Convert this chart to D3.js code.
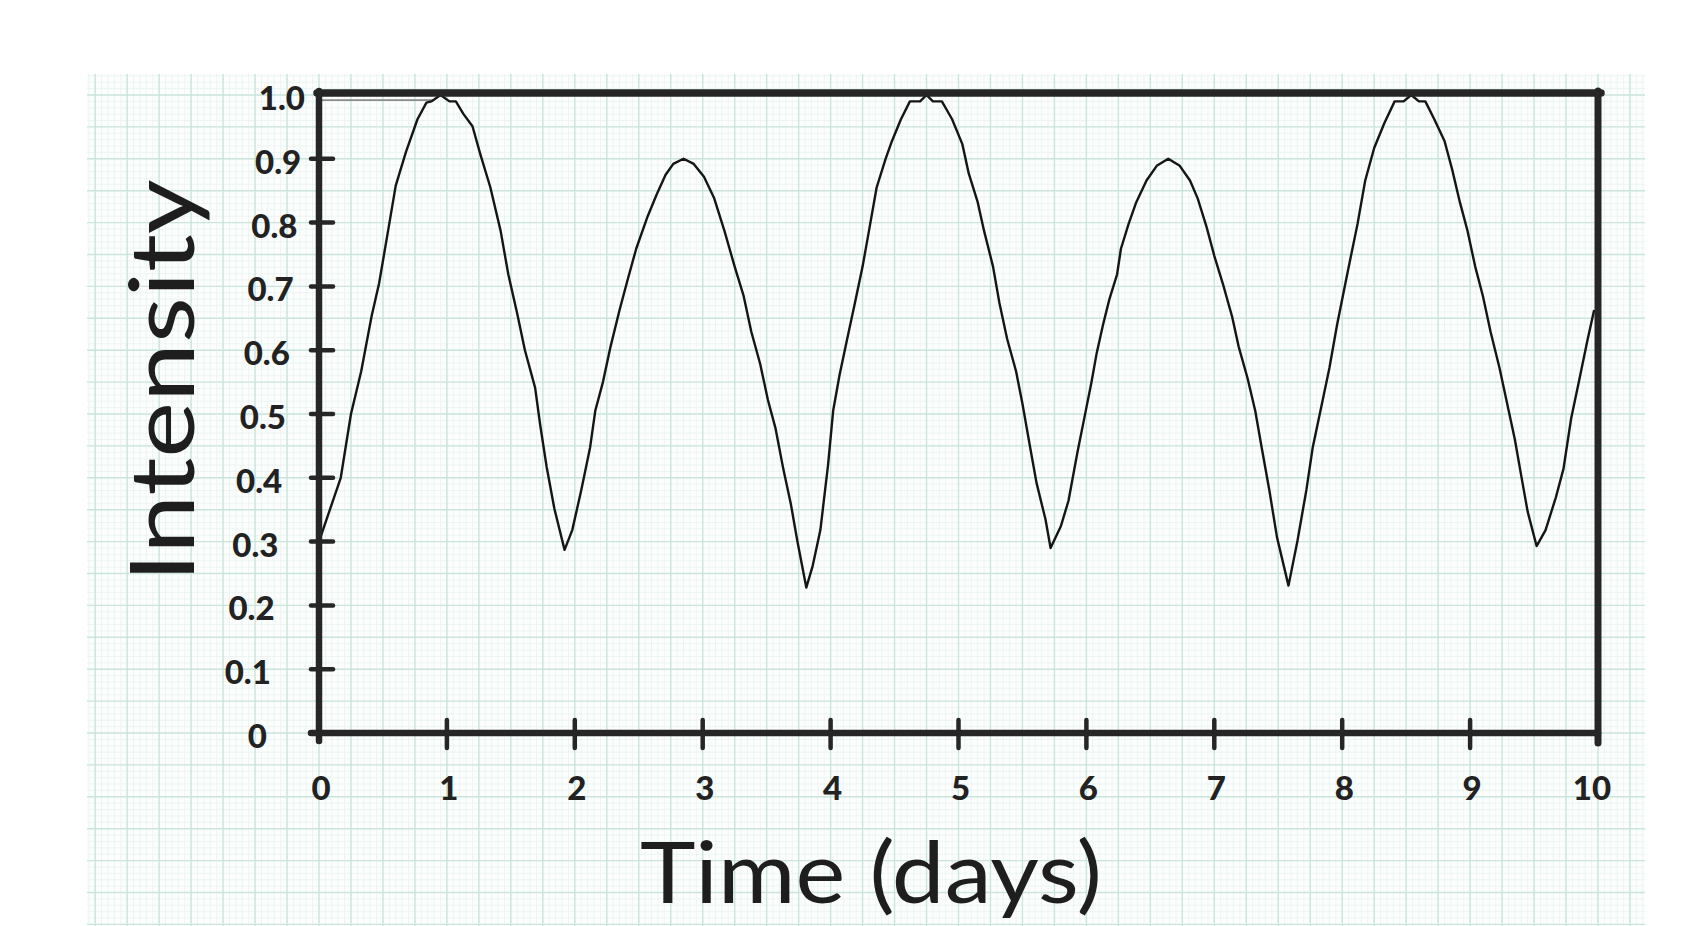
<!DOCTYPE html>
<html>
<head>
<meta charset="utf-8">
<script src="https://cdn.jsdelivr.net/npm/d3@7"></script>
<style>
  html, body { margin: 0; padding: 0; background: #ffffff; }
  svg { display: block; }
</style>
</head>
<body>
<svg id="chart" width="1708" height="926"></svg>
<script>
// ---- data ----
const days = [
  0.00, 0.17, 0.25, 0.33, 0.41, 0.47, 0.54, 0.60, 0.68, 0.77, 0.84, 0.88, 0.95, 1.02, 1.07,
  1.13, 1.20, 1.26, 1.34, 1.42, 1.48, 1.55, 1.61, 1.69, 1.73, 1.78, 1.84, 1.92,
  1.98, 2.05, 2.12, 2.16, 2.22, 2.28, 2.35, 2.41, 2.48, 2.57, 2.64, 2.71, 2.77, 2.85,
  2.93, 3.01, 3.09, 3.17, 3.25, 3.32, 3.38, 3.45, 3.51, 3.57, 3.63, 3.69, 3.74, 3.81,
  3.86, 3.92, 3.98, 4.02, 4.07, 4.13, 4.19, 4.25, 4.30, 4.36, 4.43, 4.48, 4.55, 4.62, 4.70, 4.75,
  4.80, 4.87, 4.95, 5.03, 5.08, 5.15, 5.20, 5.27, 5.32, 5.38, 5.45, 5.50, 5.56, 5.61, 5.68, 5.72,
  5.80, 5.86, 5.93, 5.98, 6.04, 6.08, 6.13, 6.18, 6.24, 6.27, 6.33, 6.39, 6.47, 6.55, 6.64,
  6.73, 6.81, 6.87, 6.94, 7.00, 7.07, 7.14, 7.19, 7.26, 7.32, 7.37, 7.43, 7.49, 7.58,
  7.65, 7.72, 7.77, 7.83, 7.90, 7.96, 8.04, 8.12, 8.18, 8.25, 8.33, 8.41, 8.48, 8.54, 8.60, 8.65,
  8.72, 8.80, 8.86, 8.92, 8.98, 9.04, 9.10, 9.16, 9.23, 9.29, 9.35, 9.40, 9.45, 9.52,
  9.59, 9.67, 9.73, 9.79, 9.85, 9.92, 9.97
];
const intensity = [
  0.300, 0.400, 0.500, 0.567, 0.652, 0.705, 0.787, 0.858, 0.911, 0.962, 0.988, 0.990, 1.000, 0.990, 0.990,
  0.970, 0.951, 0.908, 0.855, 0.787, 0.719, 0.657, 0.600, 0.541, 0.482, 0.417, 0.352, 0.287,
  0.318, 0.380, 0.448, 0.505, 0.550, 0.606, 0.663, 0.708, 0.759, 0.810, 0.844, 0.875, 0.892, 0.900,
  0.892, 0.872, 0.838, 0.787, 0.731, 0.685, 0.629, 0.578, 0.522, 0.477, 0.414, 0.358, 0.301, 0.228,
  0.262, 0.318, 0.420, 0.505, 0.561, 0.618, 0.674, 0.731, 0.787, 0.855, 0.900, 0.928, 0.962, 0.990, 0.990, 1.000,
  0.990, 0.990, 0.962, 0.923, 0.877, 0.832, 0.787, 0.731, 0.674, 0.618, 0.567, 0.516, 0.448, 0.392, 0.335, 0.290,
  0.324, 0.364, 0.440, 0.490, 0.550, 0.595, 0.640, 0.680, 0.719, 0.759, 0.798, 0.832, 0.866, 0.889, 0.900,
  0.889, 0.866, 0.838, 0.793, 0.748, 0.702, 0.652, 0.606, 0.556, 0.505, 0.448, 0.381, 0.307, 0.231,
  0.301, 0.381, 0.448, 0.505, 0.572, 0.640, 0.720, 0.798, 0.866, 0.917, 0.956, 0.990, 0.990, 1.000, 0.990, 0.990,
  0.962, 0.928, 0.883, 0.832, 0.787, 0.731, 0.685, 0.629, 0.572, 0.516, 0.460, 0.403, 0.347, 0.293,
  0.318, 0.369, 0.414, 0.493, 0.550, 0.618, 0.663
];
const xTicks = [0, 1, 2, 3, 4, 5, 6, 7, 8, 9, 10];
const xTickLabels = ["0", "1", "2", "3", "4", "5", "6", "7", "8", "9", "10"];
const yTicks = [0, 0.1, 0.2, 0.3, 0.4, 0.5, 0.6, 0.7, 0.8, 0.9, 1.0];
const yTickLabels = ["0", "0.1", "0.2", "0.3", "0.4", "0.5", "0.6", "0.7", "0.8", "0.9", "1.0"];
const xTitle = "Time (days)";
const yTitle = "Intensity";

// ---- layout ----
const W = 1708, H = 926;
const paper = { left: 87, right: 1645, top: 74, bottom: 926 };
const x = d3.scaleLinear().domain([0, 10]).range([319, 1598]);
const y = d3.scaleLinear().domain([0, 1]).range([733, 95]);

const svg = d3.select("#chart");
svg.append("rect").attr("width", W).attr("height", H).attr("fill", "#ffffff");

// graph paper
svg.append("rect")
  .attr("x", paper.left).attr("y", paper.top)
  .attr("width", paper.right - paper.left).attr("height", paper.bottom - paper.top)
  .attr("fill", "#fcfefd");

const gGrid = svg.append("g");
function gridLines(step, stroke, width, opacity) {
  const d0 = x.invert(paper.left), d1 = x.invert(paper.right);
  const n0 = Math.ceil(d0 / step), n1 = Math.floor(d1 / step);
  const xs = d3.range(n0, n1 + 1).map(k => x(k * step));
  gGrid.append("g").selectAll("line").data(xs).join("line")
    .attr("x1", d => d).attr("x2", d => d)
    .attr("y1", paper.top).attr("y2", paper.bottom)
    .attr("stroke", stroke).attr("stroke-width", width).attr("opacity", opacity);
  const v0 = y.invert(paper.bottom), v1 = y.invert(paper.top);
  const m0 = Math.ceil(v0 / step / 0.2 - 1e-9), m1 = Math.floor(v1 / step / 0.2 + 1e-9);
  const ys = d3.range(m0, m1 + 1).map(k => y(k * step * 0.2));
  gGrid.append("g").selectAll("line").data(ys).join("line")
    .attr("y1", d => d).attr("y2", d => d)
    .attr("x1", paper.left).attr("x2", paper.right)
    .attr("stroke", stroke).attr("stroke-width", width).attr("opacity", opacity);
}
gridLines(0.05, "#e8f3ef", 1, 0.75);
gridLines(0.25, "#cbe5dc", 1.4, 1);

// thin printed frame line near the top-left
svg.append("line")
  .attr("x1", x(0)).attr("x2", x(0.9))
  .attr("y1", y(0.992)).attr("y2", y(0.992))
  .attr("stroke", "#8a8a8a").attr("stroke-width", 1.6);

// the curve
const pts = days.map((d, i) => [d, intensity[i]]);
svg.append("path")
  .datum(pts)
  .attr("fill", "none")
  .attr("stroke", "#151515")
  .attr("stroke-width", 2.4)
  .attr("stroke-linejoin", "round")
  .attr("d", d3.line().x(d => x(d[0])).y(d => y(d[1])).curve(d3.curveLinear));

// hand-drawn frame
const ink = "#262626";
const frame = svg.append("g").attr("stroke", ink).attr("stroke-linecap", "round").attr("fill", "none");
frame.append("line").attr("x1", x(0) - 2).attr("x2", x(10) + 3).attr("y1", y(1) - 2).attr("y2", y(1) - 2).attr("stroke-width", 7.5);
frame.append("line").attr("x1", x(10)).attr("x2", x(10)).attr("y1", y(1) - 4).attr("y2", y(0) + 10).attr("stroke-width", 7);
frame.append("line").attr("x1", x(0)).attr("x2", x(0)).attr("y1", y(1) - 4).attr("y2", y(0) + 8).attr("stroke-width", 6.5);
frame.append("line").attr("x1", x(0) - 8).attr("x2", x(10)).attr("y1", y(0)).attr("y2", y(0)).attr("stroke-width", 6.5);

// ticks
frame.append("g").selectAll("line").data(yTicks.filter(v => v > 0 && v < 1)).join("line")
  .attr("x1", x(0) - 8).attr("x2", x(0) + 14)
  .attr("y1", d => y(d)).attr("y2", d => y(d))
  .attr("stroke-width", 4.5);
frame.append("g").selectAll("line").data(xTicks.filter(v => v > 0 && v < 10)).join("line")
  .attr("x1", d => x(d)).attr("x2", d => x(d))
  .attr("y1", y(0) - 13).attr("y2", y(0) + 15)
  .attr("stroke-width", 4.5);

// tick labels
const labelFont = "Lato, 'DejaVu Sans', sans-serif";
svg.append("g").selectAll("text").data(yTicks).join("text")
  .attr("x", d => x(0) - 14 - (1 - d) * 38)
  .attr("y", d => y(d) + 15)
  .attr("text-anchor", "end")
  .attr("font-family", labelFont)
  .attr("font-weight", 900)
  .attr("font-size", 33)
  .attr("fill", "#222")
  .text((d, i) => yTickLabels[i]);

svg.append("g").selectAll("text").data(xTicks).join("text")
  .attr("x", d => x(d) + (d === 10 ? -6 : 2))
  .attr("y", y(0) + 67)
  .attr("text-anchor", "middle")
  .attr("font-family", labelFont)
  .attr("font-weight", 900)
  .attr("font-size", 33)
  .attr("fill", "#222")
  .text((d, i) => xTickLabels[i]);

// axis titles
svg.append("text")
  .attr("transform", "translate(194,381) rotate(-90)")
  .attr("text-anchor", "middle")
  .attr("font-family", "Lato, 'DejaVu Sans', sans-serif")
  .attr("font-weight", 400)
  .attr("font-size", 90)
  .attr("fill", "#1e1e1e")
  .attr("textLength", 403)
  .attr("lengthAdjust", "spacingAndGlyphs")
  .text(yTitle);

svg.append("text")
  .attr("x", 871).attr("y", 903)
  .attr("text-anchor", "middle")
  .attr("font-family", "Lato, 'DejaVu Sans', sans-serif")
  .attr("font-weight", 400)
  .attr("font-size", 86)
  .attr("fill", "#1e1e1e")
  .attr("textLength", 462)
  .attr("lengthAdjust", "spacingAndGlyphs")
  .text(xTitle);
</script>
</body>
</html>
